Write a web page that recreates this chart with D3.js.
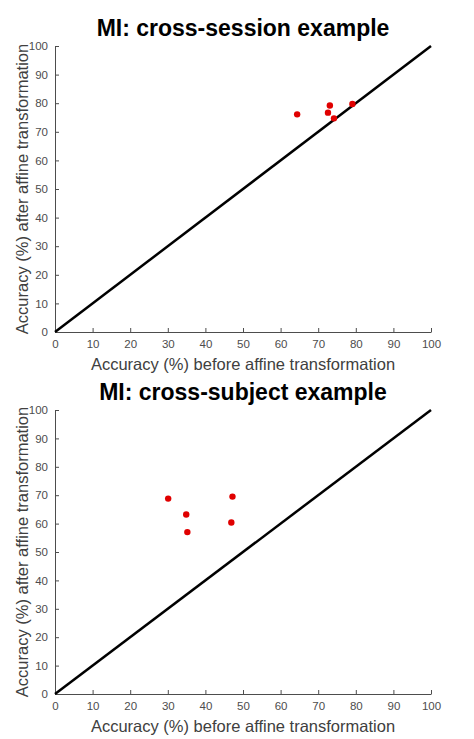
<!DOCTYPE html>
<html>
<head>
<meta charset="utf-8">
<script src="https://cdn.jsdelivr.net/npm/d3@7"></script>
<style>
  body { margin: 0; background: #fff; }
  svg text { font-family: "Liberation Sans", Arial, sans-serif; }
</style>
</head>
<body>
<div id="chart"></div>
<script>
// Data (accuracy in %)
const sessionBefore = [64.4, 73.1, 72.6, 74.2, 79.1];
const sessionAfter = [76.1, 79.2, 76.7, 74.7, 79.7];
const subjectBefore = [30.1, 47.2, 34.9, 35.2, 46.9];
const subjectAfter = [68.8, 69.5, 63.2, 57.0, 60.4];
const ticks = [0, 10, 20, 30, 40, 50, 60, 70, 80, 90, 100];
const diagonal = [0, 100];

const titles = ["MI: cross-session example", "MI: cross-subject example"];
const xLabel = "Accuracy (%) before affine transformation";
const yLabel = "Accuracy (%) after affine transformation";

const W = 474, H = 739;
const left = 55, right = 431;

const svg = d3.select("#chart")
  .append("svg")
  .attr("width", W)
  .attr("height", H);

const panels = [
  { title: titles[0], x: sessionBefore, y: sessionAfter, top: 46, bottom: 332 },
  { title: titles[1], x: subjectBefore, y: subjectAfter, top: 410, bottom: 694 },
];

const axisColor = "#4d4d4d";

panels.forEach((p) => {
  const xScale = d3.scaleLinear().domain([0, 100]).range([left, right]);
  const yScale = d3.scaleLinear().domain([0, 100]).range([p.bottom, p.top]);

  const g = svg.append("g");

  // title
  g.append("text")
    .attr("x", 243)
    .attr("y", p.top - 10)
    .attr("text-anchor", "middle")
    .attr("font-size", 23)
    .attr("font-weight", "bold")
    .attr("fill", "#000")
    .text(p.title);

  // axes, ticks pointing inward like matlab
  const xAxis = d3.axisBottom(xScale).tickValues(ticks).tickSizeInner(-4).tickSizeOuter(0).tickPadding(8);
  const yAxis = d3.axisLeft(yScale).tickValues(ticks).tickSizeInner(-4).tickSizeOuter(0).tickPadding(7);

  const gx = g.append("g")
    .attr("transform", `translate(0,${p.bottom})`)
    .call(xAxis);
  const gy = g.append("g")
    .attr("transform", `translate(${left},0)`)
    .call(yAxis);

  [gx, gy].forEach((a) => {
    a.select(".domain").attr("stroke", axisColor).attr("stroke-width", 1);
    a.selectAll(".tick line").attr("stroke", axisColor);
    a.selectAll(".tick text")
      .attr("fill", axisColor)
      .attr("font-size", 11.5)
      .attr("font-family", "Liberation Sans, Arial, sans-serif");
  });

  // axis labels
  g.append("text")
    .attr("x", 243)
    .attr("y", p.bottom + 38)
    .attr("text-anchor", "middle")
    .attr("font-size", 16.5)
    .attr("fill", "#404040")
    .text(xLabel);

  g.append("text")
    .attr("transform", `translate(28,${(p.top + p.bottom) / 2}) rotate(-90)`)
    .attr("text-anchor", "middle")
    .attr("font-size", 16.5)
    .attr("fill", "#404040")
    .text(yLabel);

  // identity line
  const line = d3.line()
    .x((d) => xScale(d))
    .y((d) => yScale(d));

  g.append("path")
    .datum(diagonal)
    .attr("d", line)
    .attr("fill", "none")
    .attr("stroke", "#000")
    .attr("stroke-width", 2.5);

  // points
  g.selectAll(".point")
    .data(p.x.map((v, i) => [v, p.y[i]]))
    .enter()
    .append("circle")
    .attr("class", "point")
    .attr("cx", (d) => xScale(d[0]))
    .attr("cy", (d) => yScale(d[1]))
    .attr("r", 3.2)
    .attr("fill", "#e00000");
});
</script>
</body>
</html>
